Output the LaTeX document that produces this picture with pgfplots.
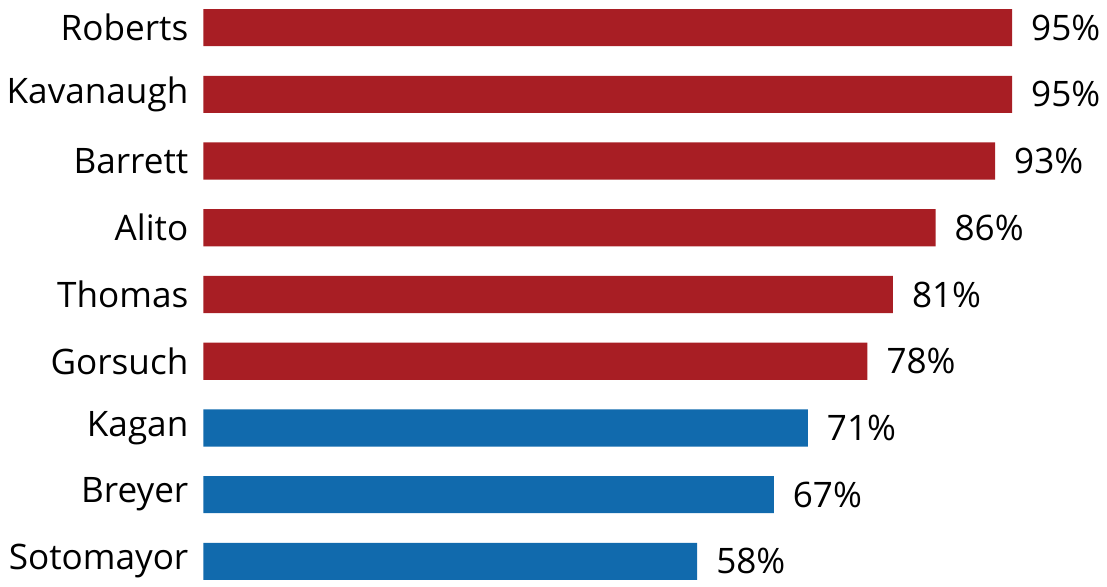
\documentclass[border=0pt]{standalone}
\usepackage{fontspec}
\setmainfont{Open Sans}
\usepackage{pgfplots}
\pgfplotsset{compat=1.18}
\definecolor{gopred}{RGB}{168,30,36}
\definecolor{demblue}{RGB}{17,106,173}
\begin{document}
\begin{tikzpicture}
\begin{axis}[
    xbar,
    bar shift=0pt,
    bar width=18.5pt,
    scale only axis,
    width=424.2pt,
    height=292.5pt,
    xmin=0, xmax=100,
    ymin=-0.383, ymax=8.414,
    hide x axis,
    axis y line*=left,
    y axis line style={draw=none},
    ytick={0,...,8},
    yticklabels={Sotomayor,Breyer,Kagan,Gorsuch,Thomas,Alito,Barrett,Kavanaugh,Roberts},
    major tick length=0pt,
    yticklabel style={font=\fontsize{17.5}{19}\selectfont, text=black, xshift=-4pt},
    /pgf/number format/assume math mode=true,
    nodes near coords={\pgfmathprintnumber{\pgfplotspointmeta}\%},
    nodes near coords style={font=\fontsize{17.5}{19}\selectfont, anchor=west, xshift=6pt, text=black},
    clip=false,
]
\addplot[draw=none, fill=gopred] coordinates {
    (95,8) (95,7) (93,6) (86,5) (81,4) (78,3)
};
\addplot[draw=none, fill=demblue] coordinates {
    (71,2) (67,1) (58,0)
};
\end{axis}
\end{tikzpicture}
\end{document}
